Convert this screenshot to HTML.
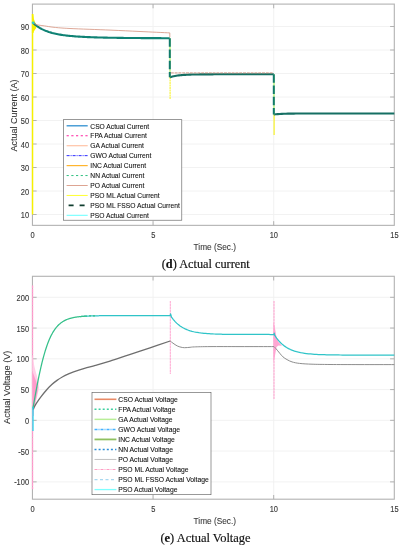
<!DOCTYPE html>
<html><head><meta charset="utf-8"><title>Figure</title>
<style>
html,body{margin:0;padding:0;background:#fff;}
body{width:404px;height:550px;overflow:hidden;}
svg{display:block;}
.tk{font-family:"Liberation Sans",Arial,sans-serif;font-size:8.7px;fill:#383838;stroke:#383838;stroke-width:0.12px;}
.lb{font-family:"Liberation Sans",Arial,sans-serif;font-size:9px;fill:#383838;stroke:#383838;stroke-width:0.1px;}
.lg{font-family:"Liberation Sans",Arial,sans-serif;font-size:7.8px;fill:#111;stroke:#111;stroke-width:0.1px;}
.cap{font-family:"Liberation Serif","DejaVu Serif",serif;font-size:11.5px;fill:#111;stroke:#111;stroke-width:0.15px;}
</style></head><body>
<svg width="404" height="550" viewBox="0 0 404 550">
<rect width="404" height="550" fill="#fff"/>

<line x1="153.07" y1="4.1" x2="153.07" y2="225.35" stroke="#f0f0f0" stroke-width="0.9" />
<line x1="273.68" y1="4.1" x2="273.68" y2="225.35" stroke="#f0f0f0" stroke-width="0.9" />
<line x1="32.45" y1="214.5" x2="394.3" y2="214.5" stroke="#f0f0f0" stroke-width="0.9" />
<line x1="32.45" y1="191" x2="394.3" y2="191" stroke="#f0f0f0" stroke-width="0.9" />
<line x1="32.45" y1="167.5" x2="394.3" y2="167.5" stroke="#f0f0f0" stroke-width="0.9" />
<line x1="32.45" y1="144" x2="394.3" y2="144" stroke="#f0f0f0" stroke-width="0.9" />
<line x1="32.45" y1="120.5" x2="394.3" y2="120.5" stroke="#f0f0f0" stroke-width="0.9" />
<line x1="32.45" y1="97" x2="394.3" y2="97" stroke="#f0f0f0" stroke-width="0.9" />
<line x1="32.45" y1="73.5" x2="394.3" y2="73.5" stroke="#f0f0f0" stroke-width="0.9" />
<line x1="32.45" y1="50" x2="394.3" y2="50" stroke="#f0f0f0" stroke-width="0.9" />
<line x1="32.45" y1="26.5" x2="394.3" y2="26.5" stroke="#f0f0f0" stroke-width="0.9" />
<rect x="32.45" y="4.1" width="361.85" height="221.25" fill="none" stroke="#b2b2b2" stroke-width="1.1"/>
<line x1="153.07" y1="225.35" x2="153.07" y2="221.15" stroke="#aaaaaa" stroke-width="0.9" />
<line x1="153.07" y1="4.1" x2="153.07" y2="8.3" stroke="#aaaaaa" stroke-width="0.9" />
<line x1="273.68" y1="225.35" x2="273.68" y2="221.15" stroke="#aaaaaa" stroke-width="0.9" />
<line x1="273.68" y1="4.1" x2="273.68" y2="8.3" stroke="#aaaaaa" stroke-width="0.9" />
<line x1="32.45" y1="214.5" x2="36.65" y2="214.5" stroke="#aaaaaa" stroke-width="0.9" />
<line x1="394.3" y1="214.5" x2="390.1" y2="214.5" stroke="#aaaaaa" stroke-width="0.9" />
<line x1="32.45" y1="191" x2="36.65" y2="191" stroke="#aaaaaa" stroke-width="0.9" />
<line x1="394.3" y1="191" x2="390.1" y2="191" stroke="#aaaaaa" stroke-width="0.9" />
<line x1="32.45" y1="167.5" x2="36.65" y2="167.5" stroke="#aaaaaa" stroke-width="0.9" />
<line x1="394.3" y1="167.5" x2="390.1" y2="167.5" stroke="#aaaaaa" stroke-width="0.9" />
<line x1="32.45" y1="144" x2="36.65" y2="144" stroke="#aaaaaa" stroke-width="0.9" />
<line x1="394.3" y1="144" x2="390.1" y2="144" stroke="#aaaaaa" stroke-width="0.9" />
<line x1="32.45" y1="120.5" x2="36.65" y2="120.5" stroke="#aaaaaa" stroke-width="0.9" />
<line x1="394.3" y1="120.5" x2="390.1" y2="120.5" stroke="#aaaaaa" stroke-width="0.9" />
<line x1="32.45" y1="97" x2="36.65" y2="97" stroke="#aaaaaa" stroke-width="0.9" />
<line x1="394.3" y1="97" x2="390.1" y2="97" stroke="#aaaaaa" stroke-width="0.9" />
<line x1="32.45" y1="73.5" x2="36.65" y2="73.5" stroke="#aaaaaa" stroke-width="0.9" />
<line x1="394.3" y1="73.5" x2="390.1" y2="73.5" stroke="#aaaaaa" stroke-width="0.9" />
<line x1="32.45" y1="50" x2="36.65" y2="50" stroke="#aaaaaa" stroke-width="0.9" />
<line x1="394.3" y1="50" x2="390.1" y2="50" stroke="#aaaaaa" stroke-width="0.9" />
<line x1="32.45" y1="26.5" x2="36.65" y2="26.5" stroke="#aaaaaa" stroke-width="0.9" />
<line x1="394.3" y1="26.5" x2="390.1" y2="26.5" stroke="#aaaaaa" stroke-width="0.9" />
<line x1="32.55" y1="14" x2="32.55" y2="214.5" stroke="#f6f000" stroke-width="1.45" />
<path d="M31.9,14 L33.3,14 L33.9,19 L35,22 L36.3,25 L36.2,28 L34.8,30 L33.8,31.5 L33.5,33 L31.9,33 Z" fill="#f6f000"/>
<line x1="170.1" y1="77" x2="170.1" y2="99.2" stroke="#f6f000" stroke-width="0.9" stroke-dasharray="2 0.5"/>
<line x1="274.1" y1="114" x2="274.1" y2="135" stroke="#f6f000" stroke-width="1" />
<polyline fill="none" stroke="#0f8274" stroke-width="2.1" stroke-linejoin="round" stroke-linecap="butt" points="32.8,22.59 33.94,23.64 35.08,24.61 36.22,25.5 37.37,26.33 38.51,27.1 39.65,27.81 40.79,28.47 41.93,29.08 43.07,29.64 44.22,30.17 45.36,30.66 46.5,31.11 47.64,31.53 48.78,31.93 49.92,32.29 51.07,32.63 52.21,32.95 53.35,33.24 54.49,33.52 55.63,33.78 56.77,34.02 57.92,34.24 59.06,34.45 60.2,34.65 61.34,34.84 62.48,35.01 63.62,35.17 64.77,35.32 65.91,35.47 67.05,35.6 68.19,35.73 69.33,35.85 70.47,35.96 71.62,36.07 72.76,36.17 73.9,36.26 75.04,36.35 76.18,36.44 77.32,36.52 78.47,36.59 79.61,36.67 80.75,36.73 81.89,36.8 83.03,36.86 84.17,36.92 85.32,36.98 86.46,37.03 87.6,37.08 88.74,37.13 89.88,37.17 91.03,37.22 92.17,37.26 93.31,37.3 94.45,37.34 95.59,37.37 96.73,37.41 97.88,37.44 99.02,37.47 100.16,37.5 101.3,37.53 102.44,37.56 103.58,37.59 104.72,37.61 105.87,37.64 107.01,37.66 108.15,37.68 109.29,37.71 110.43,37.73 111.58,37.75 112.72,37.77 113.86,37.79 115,37.8 116.14,37.82 117.28,37.84 118.42,37.85 119.57,37.87 120.71,37.88 121.85,37.9 122.99,37.91 124.13,37.93 125.27,37.94 126.42,37.95 127.56,37.96 128.7,37.97 129.84,37.99 130.98,38 132.12,38.01 133.27,38.02 134.41,38.03 135.55,38.04 136.69,38.04 137.83,38.05 138.97,38.06 140.12,38.07 141.26,38.08 142.4,38.08 143.54,38.09 144.68,38.1 145.82,38.11 146.97,38.11 148.11,38.12 149.25,38.12 150.39,38.13 151.53,38.14 152.68,38.14 153.82,38.15 154.96,38.15 156.1,38.16 157.24,38.16 158.38,38.17 159.52,38.17 160.67,38.17 161.81,38.18 162.95,38.18 164.09,38.19 165.23,38.19 166.38,38.19 167.52,38.2 168.66,38.2 169.8,38.2"/>
<polyline fill="none" stroke="#156f63" stroke-width="2.1" stroke-linejoin="round" stroke-linecap="butt" points="169.8,77.3 171.1,76.9 172.4,76.55 173.7,76.25 175,75.98 176.3,75.76 177.6,75.56 178.9,75.39 180.2,75.24 181.5,75.12 182.8,75.01 184.1,74.91 185.4,74.83 186.7,74.76 188,74.7 189.3,74.64 190.6,74.6 191.9,74.56 193.2,74.52 194.5,74.49 195.8,74.47 197.1,74.44 198.4,74.43 199.7,74.41 201,74.39 202.3,74.38 203.6,74.37 204.9,74.36 206.2,74.35 207.5,74.35 208.8,74.34 210.1,74.33 211.4,74.33 212.7,74.33 214,74.32 215.3,74.32 216.6,74.32 217.9,74.31 219.2,74.31 220.5,74.31 221.8,74.31 223.1,74.31 224.4,74.31 225.7,74.31 227,74.31 228.3,74.3 229.6,74.3 230.9,74.3 232.2,74.3 233.5,74.3 234.8,74.3 236.1,74.3 237.4,74.3 238.7,74.3 240,74.3 241.3,74.3 242.6,74.3 243.9,74.3 245.2,74.3 246.5,74.3 247.8,74.3 249.1,74.3 250.4,74.3 251.7,74.3 253,74.3 254.3,74.3 255.6,74.3 256.9,74.3 258.2,74.3 259.5,74.3 260.8,74.3 262.1,74.3 263.4,74.3 264.7,74.3 266,74.3 267.3,74.3 268.6,74.3 269.9,74.3 271.2,74.3 272.5,74.3 273.8,74.3"/>
<polyline fill="none" stroke="#156f63" stroke-width="2.1" stroke-linejoin="round" stroke-linecap="butt" points="273.8,114.5 275.81,114.28 277.82,114.11 279.82,113.97 281.83,113.87 283.84,113.79 285.85,113.72 287.86,113.67 289.87,113.63 291.88,113.6 293.88,113.58 295.89,113.56 297.9,113.55 299.91,113.54 301.92,113.53 303.93,113.52 305.93,113.52 307.94,113.51 309.95,113.51 311.96,113.51 313.97,113.51 315.98,113.51 317.98,113.5 319.99,113.5 322,113.5 324.01,113.5 326.02,113.5 328.03,113.5 330.03,113.5 332.04,113.5 334.05,113.5 336.06,113.5 338.07,113.5 340.08,113.5 342.08,113.5 344.09,113.5 346.1,113.5 348.11,113.5 350.12,113.5 352.12,113.5 354.13,113.5 356.14,113.5 358.15,113.5 360.16,113.5 362.17,113.5 364.18,113.5 366.18,113.5 368.19,113.5 370.2,113.5 372.21,113.5 374.22,113.5 376.23,113.5 378.23,113.5 380.24,113.5 382.25,113.5 384.26,113.5 386.27,113.5 388.27,113.5 390.28,113.5 392.29,113.5 394.3,113.5"/>
<line x1="170" y1="38.3" x2="170" y2="77.3" stroke="#b4f27a" stroke-width="1.4" />
<line x1="169.8" y1="38.3" x2="169.8" y2="77.3" stroke="#117a6c" stroke-width="2.0" stroke-dasharray="8.5 2.7"/>
<line x1="274" y1="74.3" x2="274" y2="114.5" stroke="#b4f27a" stroke-width="1.4" />
<line x1="273.8" y1="74.3" x2="273.8" y2="114.5" stroke="#117a6c" stroke-width="2.0" stroke-dasharray="8.5 2.7"/>
<path fill="none" stroke="#d4917c" stroke-width="0.8"  d="M33,22.5 C33.55,22.85 35.13,24.13 36.3,24.6 C37.47,25.07 38.63,25.08 40,25.3 C41.37,25.52 42.17,25.57 44.5,25.9 C46.83,26.23 49.75,26.87 54,27.3 C58.25,27.73 60.67,28.03 70,28.5 C79.33,28.97 98.33,29.6 110,30.1 C121.67,30.6 130.03,31.03 140,31.5 C149.97,31.97 164.83,32.67 169.8,32.9"/>
<polyline fill="none" stroke="#d4917c" stroke-width="0.8"  points="169.8,32.9 169.8,37.3"/>
<polyline fill="none" stroke="#c8826a" stroke-width="0.8" stroke-dasharray="3 0.8" points="170.8,72.9 273,72.9"/>
<circle cx="33.1" cy="22.8" r="1.4" fill="#2fd0c0"/>
<text class="tk" text-anchor="end" transform="translate(29.1,218.1) scale(0.86,1)">10</text>
<text class="tk" text-anchor="end" transform="translate(29.1,194.6) scale(0.86,1)">20</text>
<text class="tk" text-anchor="end" transform="translate(29.1,171.1) scale(0.86,1)">30</text>
<text class="tk" text-anchor="end" transform="translate(29.1,147.6) scale(0.86,1)">40</text>
<text class="tk" text-anchor="end" transform="translate(29.1,124.1) scale(0.86,1)">50</text>
<text class="tk" text-anchor="end" transform="translate(29.1,100.6) scale(0.86,1)">60</text>
<text class="tk" text-anchor="end" transform="translate(29.1,77.1) scale(0.86,1)">70</text>
<text class="tk" text-anchor="end" transform="translate(29.1,53.6) scale(0.86,1)">80</text>
<text class="tk" text-anchor="end" transform="translate(29.1,30.1) scale(0.86,1)">90</text>
<text class="tk" text-anchor="middle" transform="translate(32.65,237.85) scale(0.86,1)">0</text>
<text class="tk" text-anchor="middle" transform="translate(153.27,237.85) scale(0.86,1)">5</text>
<text class="tk" text-anchor="middle" transform="translate(273.88,237.85) scale(0.86,1)">10</text>
<text class="tk" text-anchor="middle" transform="translate(394.5,237.85) scale(0.86,1)">15</text>
<text class="lb" text-anchor="middle" transform="translate(214.8,249.65) scale(0.92,1)">Time (Sec.)</text>
<text class="lb" text-anchor="middle" transform="translate(17.3,115.6) rotate(-90) scale(1.0,1)">Actual Current (A)</text>
<rect x="63.4" y="119.7" width="118.4" height="100.5" fill="#fff" stroke="#555" stroke-width="0.6"/>
<line x1="66.6" y1="125.8" x2="87.7" y2="125.8" stroke="#2f8fd0" stroke-width="1.3"/>
<text class="lg" text-anchor="start" transform="translate(90.3,128.5) scale(0.86,1)">CSO Actual Current</text>
<line x1="66.6" y1="135.75" x2="87.7" y2="135.75" stroke="#ff20a0" stroke-width="1.2" stroke-dasharray="2.2 2.5"/>
<text class="lg" text-anchor="start" transform="translate(90.3,138.45) scale(0.86,1)">FPA Actual Current</text>
<line x1="66.6" y1="145.7" x2="87.7" y2="145.7" stroke="#ffc3a6" stroke-width="1.2"/>
<text class="lg" text-anchor="start" transform="translate(90.3,148.4) scale(0.86,1)">GA Actual Current</text>
<line x1="66.6" y1="155.65" x2="87.7" y2="155.65" stroke="#2a2aff" stroke-width="1" stroke-dasharray="3 1 1 1"/>
<text class="lg" text-anchor="start" transform="translate(90.3,158.35) scale(0.86,1)">GWO Actual Current</text>
<line x1="66.6" y1="165.6" x2="87.7" y2="165.6" stroke="#ffb52e" stroke-width="1.2"/>
<text class="lg" text-anchor="start" transform="translate(90.3,168.3) scale(0.86,1)">INC Actual Current</text>
<line x1="66.6" y1="175.55" x2="87.7" y2="175.55" stroke="#2fc080" stroke-width="1" stroke-dasharray="2.2 2.5"/>
<text class="lg" text-anchor="start" transform="translate(90.3,178.25) scale(0.86,1)">NN Actual Current</text>
<line x1="66.6" y1="185.5" x2="87.7" y2="185.5" stroke="#d99a86" stroke-width="0.9"/>
<text class="lg" text-anchor="start" transform="translate(90.3,188.2) scale(0.86,1)">PO Actual Current</text>
<line x1="66.6" y1="195.45" x2="87.7" y2="195.45" stroke="#ffff30" stroke-width="1"/>
<text class="lg" text-anchor="start" transform="translate(90.3,198.15) scale(0.86,1)">PSO ML Actual Current</text>
<line x1="66.6" y1="205.4" x2="87.7" y2="205.4" stroke="#0f3d2e" stroke-width="1.8" stroke-dasharray="5 6" stroke-dashoffset="-2"/>
<text class="lg" text-anchor="start" transform="translate(90.3,208.1) scale(0.86,1)">PSO ML FSSO Actual Current</text>
<line x1="66.6" y1="215.35" x2="87.7" y2="215.35" stroke="#7fffff" stroke-width="1.2"/>
<text class="lg" text-anchor="start" transform="translate(90.3,218.05) scale(0.86,1)">PSO Actual Current</text>
<text class="cap" text-anchor="middle" transform="translate(205.75,267.9) scale(1.07,1)">(<tspan font-weight="bold">d</tspan>) Actual current</text>
<line x1="153.07" y1="276.3" x2="153.07" y2="499.2" stroke="#f0f0f0" stroke-width="0.9" />
<line x1="273.68" y1="276.3" x2="273.68" y2="499.2" stroke="#f0f0f0" stroke-width="0.9" />
<line x1="32.45" y1="481.86" x2="394.3" y2="481.86" stroke="#f0f0f0" stroke-width="0.9" />
<line x1="32.45" y1="451.1" x2="394.3" y2="451.1" stroke="#f0f0f0" stroke-width="0.9" />
<line x1="32.45" y1="420.34" x2="394.3" y2="420.34" stroke="#f0f0f0" stroke-width="0.9" />
<line x1="32.45" y1="389.58" x2="394.3" y2="389.58" stroke="#f0f0f0" stroke-width="0.9" />
<line x1="32.45" y1="358.82" x2="394.3" y2="358.82" stroke="#f0f0f0" stroke-width="0.9" />
<line x1="32.45" y1="328.06" x2="394.3" y2="328.06" stroke="#f0f0f0" stroke-width="0.9" />
<line x1="32.45" y1="297.3" x2="394.3" y2="297.3" stroke="#f0f0f0" stroke-width="0.9" />
<rect x="32.45" y="276.3" width="361.85" height="222.9" fill="none" stroke="#b2b2b2" stroke-width="1.1"/>
<line x1="153.07" y1="499.2" x2="153.07" y2="495" stroke="#aaaaaa" stroke-width="0.9" />
<line x1="153.07" y1="276.3" x2="153.07" y2="280.5" stroke="#aaaaaa" stroke-width="0.9" />
<line x1="273.68" y1="499.2" x2="273.68" y2="495" stroke="#aaaaaa" stroke-width="0.9" />
<line x1="273.68" y1="276.3" x2="273.68" y2="280.5" stroke="#aaaaaa" stroke-width="0.9" />
<line x1="32.45" y1="481.86" x2="36.65" y2="481.86" stroke="#aaaaaa" stroke-width="0.9" />
<line x1="394.3" y1="481.86" x2="390.1" y2="481.86" stroke="#aaaaaa" stroke-width="0.9" />
<line x1="32.45" y1="451.1" x2="36.65" y2="451.1" stroke="#aaaaaa" stroke-width="0.9" />
<line x1="394.3" y1="451.1" x2="390.1" y2="451.1" stroke="#aaaaaa" stroke-width="0.9" />
<line x1="32.45" y1="420.34" x2="36.65" y2="420.34" stroke="#aaaaaa" stroke-width="0.9" />
<line x1="394.3" y1="420.34" x2="390.1" y2="420.34" stroke="#aaaaaa" stroke-width="0.9" />
<line x1="32.45" y1="389.58" x2="36.65" y2="389.58" stroke="#aaaaaa" stroke-width="0.9" />
<line x1="394.3" y1="389.58" x2="390.1" y2="389.58" stroke="#aaaaaa" stroke-width="0.9" />
<line x1="32.45" y1="358.82" x2="36.65" y2="358.82" stroke="#aaaaaa" stroke-width="0.9" />
<line x1="394.3" y1="358.82" x2="390.1" y2="358.82" stroke="#aaaaaa" stroke-width="0.9" />
<line x1="32.45" y1="328.06" x2="36.65" y2="328.06" stroke="#aaaaaa" stroke-width="0.9" />
<line x1="394.3" y1="328.06" x2="390.1" y2="328.06" stroke="#aaaaaa" stroke-width="0.9" />
<line x1="32.45" y1="297.3" x2="36.65" y2="297.3" stroke="#aaaaaa" stroke-width="0.9" />
<line x1="394.3" y1="297.3" x2="390.1" y2="297.3" stroke="#aaaaaa" stroke-width="0.9" />
<line x1="32.55" y1="285.6" x2="32.55" y2="489.3" stroke="#ff9ccc" stroke-width="1.3" stroke-dasharray="3 0.3"/>
<path d="M32.4,354 L33.3,360 L34.3,366 L35.5,371 L37,376 L38.5,382 L39,388 L37.5,395 L35.5,403 L34,410 L33.6,416 L32.4,416 Z" fill="#ffd0e8"/>
<path d="M32.4,371 L33.8,375 L36,381 L37.7,386 L37.6,391 L36.5,397 L35,404 L34,410 L33.6,416 L32.4,416 Z" fill="#ff9ccc"/>
<line x1="170.3" y1="301" x2="170.3" y2="374" stroke="#ff9ccc" stroke-width="0.9" stroke-dasharray="2.6 0.4"/>
<line x1="274" y1="301" x2="274" y2="399" stroke="#ff9ccc" stroke-width="1.0" stroke-dasharray="2.6 0.4"/>
<path d="M273.4,322 L274.6,326 L275.6,332 L276.6,338 L278.5,342 L282,345.8 L278.5,345.6 L276.5,347 L275.6,352 L274.6,358 L273.4,362 Z" fill="#ffa6d2"/>
<path fill="none" stroke="#6e6e6e" stroke-width="1.3"  d="M33,409.5 C33.33,408.85 34.33,406.8 35,405.6 C35.67,404.4 36.02,403.77 37,402.3 C37.98,400.83 39.35,398.82 40.9,396.8 C42.45,394.78 44.48,392.23 46.3,390.2 C48.12,388.17 50.02,386.23 51.8,384.6 C53.58,382.97 55.18,381.7 57,380.4 C58.82,379.1 60.87,377.85 62.7,376.8 C64.53,375.75 66.18,374.93 68,374.1 C69.82,373.27 70.85,372.77 73.6,371.8 C76.35,370.83 80.87,369.37 84.5,368.3 C88.13,367.23 91.15,366.6 95.4,365.4 C99.65,364.2 104.43,362.87 110,361.1 C115.57,359.33 122.13,357.02 128.8,354.8 C135.47,352.58 143.1,350.1 150,347.8 C156.9,345.5 166.83,342.13 170.2,341"/>
<path fill="none" stroke="#8e8e8e" stroke-width="1.0"  d="M170.2,341 C170.67,341.37 171.83,342.38 173,343.2 C174.17,344.02 175.87,345.23 177.2,345.9 C178.53,346.57 179.75,346.9 181,347.2 C182.25,347.5 183.2,347.68 184.7,347.7 C186.2,347.72 188.37,347.43 190,347.3 C191.63,347.17 191.17,347.02 194.5,346.9 C197.83,346.78 202.42,346.65 210,346.6 C217.58,346.55 229.33,346.6 240,346.6 C250.67,346.6 268.33,346.6 274,346.6"/>
<path fill="none" stroke="#8e8e8e" stroke-width="1.0"  d="M274,346.6 C274.33,346.95 275.05,347.6 276,348.7 C276.95,349.8 278.53,351.83 279.7,353.2 C280.87,354.57 281.78,355.83 283,356.9 C284.22,357.97 285.5,358.77 287,359.6 C288.5,360.43 289.92,361.27 292,361.9 C294.08,362.53 296.17,363.02 299.5,363.4 C302.83,363.78 306.92,364.02 312,364.2 C317.08,364.38 322,364.43 330,364.5 C338,364.57 349.28,364.58 360,364.6 C370.72,364.62 388.58,364.6 394.3,364.6"/>
<polyline fill="none" stroke="#2fc4c8" stroke-width="1.25" stroke-linejoin="round" points="80.5,316.56 81,316.51 81.5,316.47 82,316.42 82.5,316.38 83,316.34 83.5,316.31 84,316.27 84.5,316.24 85,316.21 85.5,316.18 86,316.15 86.5,316.12 87,316.1 87.5,316.07 88,316.05 88.5,316.03 89,316 89.5,315.98 90,315.97 90.5,315.95 91,315.93 91.5,315.91 92,315.9 92.5,315.88 93,315.87 93.5,315.86 94,315.84 94.5,315.83 95,315.82 95.5,315.81 96,315.8 96.5,315.79 97,315.78 97.5,315.77 98,315.76 98.5,315.76 99,315.75 99.5,315.74 100,315.73 100,315.6 170.3,315.6 170.5,313.8 171.5,317.02 173.21,319.34 174.92,321.35 176.62,323.1 178.33,324.61 180.04,325.92 181.75,327.06 183.46,328.05 185.17,328.9 186.88,329.65 188.58,330.29 190.29,330.85 192,331.33 193.71,331.75 195.42,332.12 197.12,332.43 198.83,332.71 200.54,332.95 202.25,333.15 203.96,333.33 205.67,333.49 207.38,333.62 209.08,333.74 210.79,333.84 212.5,333.93 214.21,334 215.92,334.07 217.62,334.13 219.33,334.18 221.04,334.22 222.75,334.26 224.46,334.29 226.17,334.32 227.88,334.34 229.58,334.36 231.29,334.38 233,334.4 234.71,334.41 236.42,334.42 238.12,334.43 239.83,334.44 241.54,334.45 243.25,334.46 244.96,334.46 246.67,334.47 248.38,334.47 250.08,334.47 251.79,334.48 253.5,334.48 255.21,334.48 256.92,334.49 258.62,334.49 260.33,334.49 262.04,334.49 263.75,334.49 265.46,334.49 267.17,334.49 268.88,334.49 270.58,334.5 272.29,334.5 274,334.5 274.2,333.2 274.6,335.2 276.6,338.14 278.59,340.64 280.59,342.77 282.58,344.59 284.58,346.14 286.57,347.46 288.56,348.59 290.56,349.55 292.56,350.37 294.55,351.07 296.55,351.66 298.54,352.17 300.54,352.6 302.53,352.97 304.53,353.28 306.52,353.55 308.52,353.78 310.51,353.97 312.5,354.14 314.5,354.28 316.5,354.4 318.49,354.51 320.49,354.59 322.48,354.67 324.48,354.73 326.47,354.79 328.47,354.83 330.46,354.87 332.46,354.91 334.45,354.93 336.45,354.96 338.44,354.98 340.44,355 342.43,355.01 344.43,355.03 346.42,355.04 348.42,355.05 350.41,355.05 352.41,355.06 354.4,355.07 356.4,355.07 358.39,355.08 360.38,355.08 362.38,355.08 364.38,355.08 366.37,355.09 368.37,355.09 370.36,355.09 372.36,355.09 374.35,355.09 376.35,355.09 378.34,355.1 380.34,355.1 382.33,355.1 384.32,355.1 386.32,355.1 388.31,355.1 390.31,355.1 392.31,355.1 394.3,355.1"/>
<polyline fill="none" stroke="#35c08a" stroke-width="1.25" stroke-linejoin="round" points="33,408 33.5,405.16 34,402.33 34.5,399.52 35,396.75 35.5,394 36,391.29 36.5,388.62 37,386 37.5,383.42 38,380.89 38.5,378.41 39,375.99 39.5,373.63 40,371.32 40.5,369.07 41,366.88 41.5,364.76 42,362.7 42.5,360.7 43,358.76 43.5,356.89 44,355.08 44.5,353.33 45,351.64 45.5,350.02 46,348.45 46.5,346.94 47,345.5 47.5,344.11 48,342.77 48.5,341.49 49,340.26 49.5,339.09 50,337.96 50.5,336.88 51,335.85 51.5,334.87 52,333.93 52.5,333.03 53,332.17 53.5,331.35 54,330.57 54.5,329.83 55,329.12 55.5,328.44 56,327.8 56.5,327.19 57,326.61 57.5,326.05 58,325.53 58.5,325.03 59,324.55 59.5,324.1 60,323.67 60.5,323.26 61,322.87 61.5,322.5 62,322.15 62.5,321.82 63,321.5 63.5,321.2 64,320.91 64.5,320.64 65,320.39 65.5,320.14 66,319.91 66.5,319.69 67,319.49 67.5,319.29 68,319.1 68.5,318.92 69,318.75 69.5,318.59 70,318.44 70.5,318.3 71,318.16 71.5,318.03 72,317.91 72.5,317.79 73,317.68 73.5,317.58 74,317.48 74.5,317.38 75,317.29 75.5,317.21 76,317.13 76.5,317.05 77,316.98 77.5,316.91 78,316.84 78.5,316.78 79,316.72 79.5,316.66 80,316.61 80.5,316.56 81,316.51 81.5,316.47 82,316.42 82.5,316.38 83,316.34 83.5,316.31 84,316.27 84.5,316.24 85,316.21"/>
<polyline fill="none" stroke="#35c08a" stroke-width="1.25" stroke-linejoin="round" stroke-dasharray="2 2" points="85,316.21 85.5,316.18 86,316.15 86.5,316.12 87,316.1 87.5,316.07 88,316.05 88.5,316.03 89,316 89.5,315.98 90,315.97 90.5,315.95 91,315.93 91.5,315.91 92,315.9 92.5,315.88 93,315.87 93.5,315.86 94,315.84 94.5,315.83 95,315.82"/>
<line x1="33" y1="406.7" x2="33" y2="431" stroke="#12e0f2" stroke-width="1.2" />
<text class="tk" text-anchor="end" transform="translate(29.1,485.46) scale(0.86,1)">-100</text>
<text class="tk" text-anchor="end" transform="translate(29.1,454.7) scale(0.86,1)">-50</text>
<text class="tk" text-anchor="end" transform="translate(29.1,423.94) scale(0.86,1)">0</text>
<text class="tk" text-anchor="end" transform="translate(29.1,393.18) scale(0.86,1)">50</text>
<text class="tk" text-anchor="end" transform="translate(29.1,362.42) scale(0.86,1)">100</text>
<text class="tk" text-anchor="end" transform="translate(29.1,331.66) scale(0.86,1)">150</text>
<text class="tk" text-anchor="end" transform="translate(29.1,300.9) scale(0.86,1)">200</text>
<text class="tk" text-anchor="middle" transform="translate(32.65,511.7) scale(0.86,1)">0</text>
<text class="tk" text-anchor="middle" transform="translate(153.27,511.7) scale(0.86,1)">5</text>
<text class="tk" text-anchor="middle" transform="translate(273.88,511.7) scale(0.86,1)">10</text>
<text class="tk" text-anchor="middle" transform="translate(394.5,511.7) scale(0.86,1)">15</text>
<text class="lb" text-anchor="middle" transform="translate(214.8,523.5) scale(0.92,1)">Time (Sec.)</text>
<text class="lb" text-anchor="middle" transform="translate(10.3,387.3) rotate(-90) scale(1.02,1)">Actual Voltage (V)</text>
<rect x="92" y="392.6" width="119" height="102.1" fill="#fff" stroke="#555" stroke-width="0.6"/>
<line x1="94.5" y1="399.3" x2="116.4" y2="399.3" stroke="#e98a66" stroke-width="1.6"/>
<text class="lg" text-anchor="start" transform="translate(118.3,402) scale(0.87,1)">CSO Actual Voltage</text>
<line x1="94.5" y1="409.33" x2="116.4" y2="409.33" stroke="#3fd0a0" stroke-width="1.5" stroke-dasharray="2 2.1"/>
<text class="lg" text-anchor="start" transform="translate(118.3,412.03) scale(0.87,1)">FPA Actual Voltage</text>
<line x1="94.5" y1="419.36" x2="116.4" y2="419.36" stroke="#b9ee98" stroke-width="1.5"/>
<text class="lg" text-anchor="start" transform="translate(118.3,422.06) scale(0.87,1)">GA Actual Voltage</text>
<line x1="94.5" y1="429.39" x2="116.4" y2="429.39" stroke="#45b2ff" stroke-width="1.5" stroke-dasharray="3 1 1 1"/>
<text class="lg" text-anchor="start" transform="translate(118.3,432.09) scale(0.87,1)">GWO Actual Voltage</text>
<line x1="94.5" y1="439.42" x2="116.4" y2="439.42" stroke="#8fc060" stroke-width="1.8"/>
<text class="lg" text-anchor="start" transform="translate(118.3,442.12) scale(0.87,1)">INC Actual Voltage</text>
<line x1="94.5" y1="449.45" x2="116.4" y2="449.45" stroke="#2f8fd8" stroke-width="1.5" stroke-dasharray="2 2.1"/>
<text class="lg" text-anchor="start" transform="translate(118.3,452.15) scale(0.87,1)">NN Actual Voltage</text>
<line x1="94.5" y1="459.48" x2="116.4" y2="459.48" stroke="#c4c4c4" stroke-width="1.1"/>
<text class="lg" text-anchor="start" transform="translate(118.3,462.18) scale(0.87,1)">PO Actual Voltage</text>
<line x1="94.5" y1="469.51" x2="116.4" y2="469.51" stroke="#ff9ec4" stroke-width="1.1" stroke-dasharray="3 1 1 1"/>
<text class="lg" text-anchor="start" transform="translate(118.3,472.21) scale(0.87,1)">PSO ML Actual Voltage</text>
<line x1="94.5" y1="479.54" x2="116.4" y2="479.54" stroke="#a8d8f0" stroke-width="1.2" stroke-dasharray="3 2.5"/>
<text class="lg" text-anchor="start" transform="translate(118.3,482.24) scale(0.87,1)">PSO ML FSSO Actual Voltage</text>
<line x1="94.5" y1="489.57" x2="116.4" y2="489.57" stroke="#7fffff" stroke-width="1.3"/>
<text class="lg" text-anchor="start" transform="translate(118.3,492.27) scale(0.87,1)">PSO Actual Voltage</text>
<text class="cap" text-anchor="middle" transform="translate(205.5,542.1) scale(1.085,1)">(<tspan font-weight="bold">e</tspan>) Actual Voltage</text>
</svg></body></html>
